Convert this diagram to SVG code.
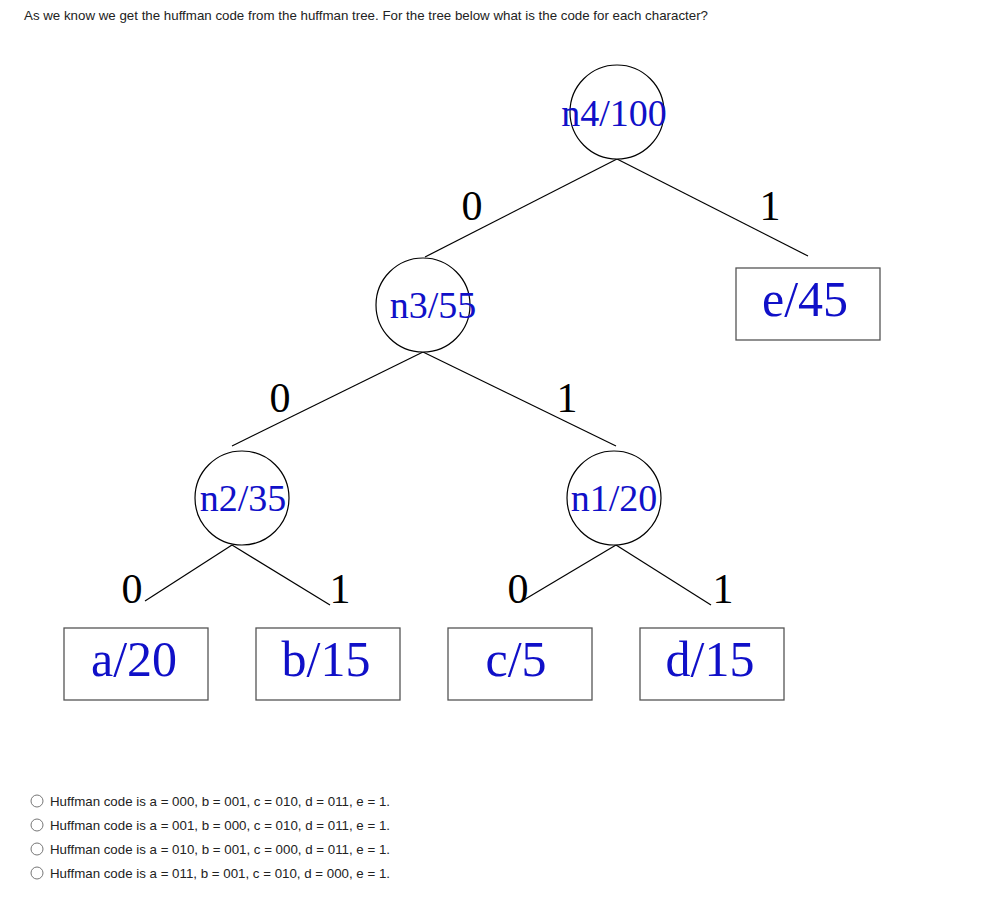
<svg xmlns="http://www.w3.org/2000/svg" width="981" height="905" viewBox="0 0 981 905">
<style>
.s{font-family:"Liberation Sans",Arial,sans-serif;font-size:13.3px;fill:#222}
.c{fill:#fff;stroke:#000;stroke-width:1.2}
.nt{font-family:"Liberation Serif",serif;font-size:38px;fill:#1010c8;text-anchor:middle}
.bt{font-family:"Liberation Serif",serif;font-size:50px;fill:#1010c8;text-anchor:middle}
.el{font-family:"Liberation Serif",serif;font-size:42px;fill:#000;text-anchor:middle}
.r{fill:#fff;stroke:#555;stroke-width:1.3}
line{stroke:#000;stroke-width:1.2}
</style>
<rect width="981" height="905" fill="#fff"/>
<text class="s" x="24" y="20" textLength="684" lengthAdjust="spacingAndGlyphs">As we know we get the huffman code from the huffman tree. For the tree below what is the code for each character?</text>
<g id="edges">
<line x1="617" y1="159" x2="425" y2="257"/>
<line x1="617" y1="159" x2="808" y2="256"/>
<line x1="423" y1="352" x2="232" y2="446"/>
<line x1="423" y1="352" x2="616" y2="446"/>
<line x1="232" y1="545" x2="145" y2="601"/>
<line x1="232" y1="545" x2="330" y2="605"/>
<line x1="616" y1="545" x2="522" y2="601"/>
<line x1="616" y1="545" x2="711" y2="605"/>
<text class="el" x="472" y="220">0</text>
<text class="el" x="770" y="220">1</text>
<text class="el" x="280" y="412">0</text>
<text class="el" x="567" y="412">1</text>
<text class="el" x="132" y="603">0</text>
<text class="el" x="340" y="603">1</text>
<text class="el" x="518" y="603">0</text>
<text class="el" x="723" y="603">1</text>
</g>
<g id="n4"><circle class="c" cx="617" cy="112" r="47"/><text class="nt" x="614" y="126">n4/100</text></g>
<g id="n3"><circle class="c" cx="423" cy="305" r="47"/><text class="nt" x="433" y="318">n3/55</text></g>
<g id="n2"><circle class="c" cx="242" cy="498" r="47"/><text class="nt" x="243" y="511">n2/35</text></g>
<g id="n1"><circle class="c" cx="614" cy="498" r="47"/><text class="nt" x="614" y="511">n1/20</text></g>
<g id="e"><rect class="r" x="736" y="268" width="144" height="72"/><text class="bt" x="805" y="316">e/45</text></g>
<g id="a"><rect class="r" x="64" y="628" width="144" height="72"/><text class="bt" x="134" y="676">a/20</text></g>
<g id="b"><rect class="r" x="256" y="628" width="144" height="72"/><text class="bt" x="326" y="676">b/15</text></g>
<g id="c"><rect class="r" x="448" y="628" width="144" height="72"/><text class="bt" x="516" y="676">c/5</text></g>
<g id="d"><rect class="r" x="640" y="628" width="144" height="72"/><text class="bt" x="710" y="676">d/15</text></g>
<g id="options" fill="#fff" stroke="#777">
<circle cx="37" cy="801" r="6"/><circle cx="37" cy="825" r="6"/><circle cx="37" cy="849" r="6"/><circle cx="37" cy="873" r="6"/>
</g>
<text class="s" x="50" y="806" textLength="340" lengthAdjust="spacingAndGlyphs">Huffman code is a = 000, b = 001, c = 010, d = 011, e = 1.</text>
<text class="s" x="50" y="830" textLength="340" lengthAdjust="spacingAndGlyphs">Huffman code is a = 001, b = 000, c = 010, d = 011, e = 1.</text>
<text class="s" x="50" y="854" textLength="340" lengthAdjust="spacingAndGlyphs">Huffman code is a = 010, b = 001, c = 000, d = 011, e = 1.</text>
<text class="s" x="50" y="878" textLength="340" lengthAdjust="spacingAndGlyphs">Huffman code is a = 011, b = 001, c = 010, d = 000, e = 1.</text>
</svg>
